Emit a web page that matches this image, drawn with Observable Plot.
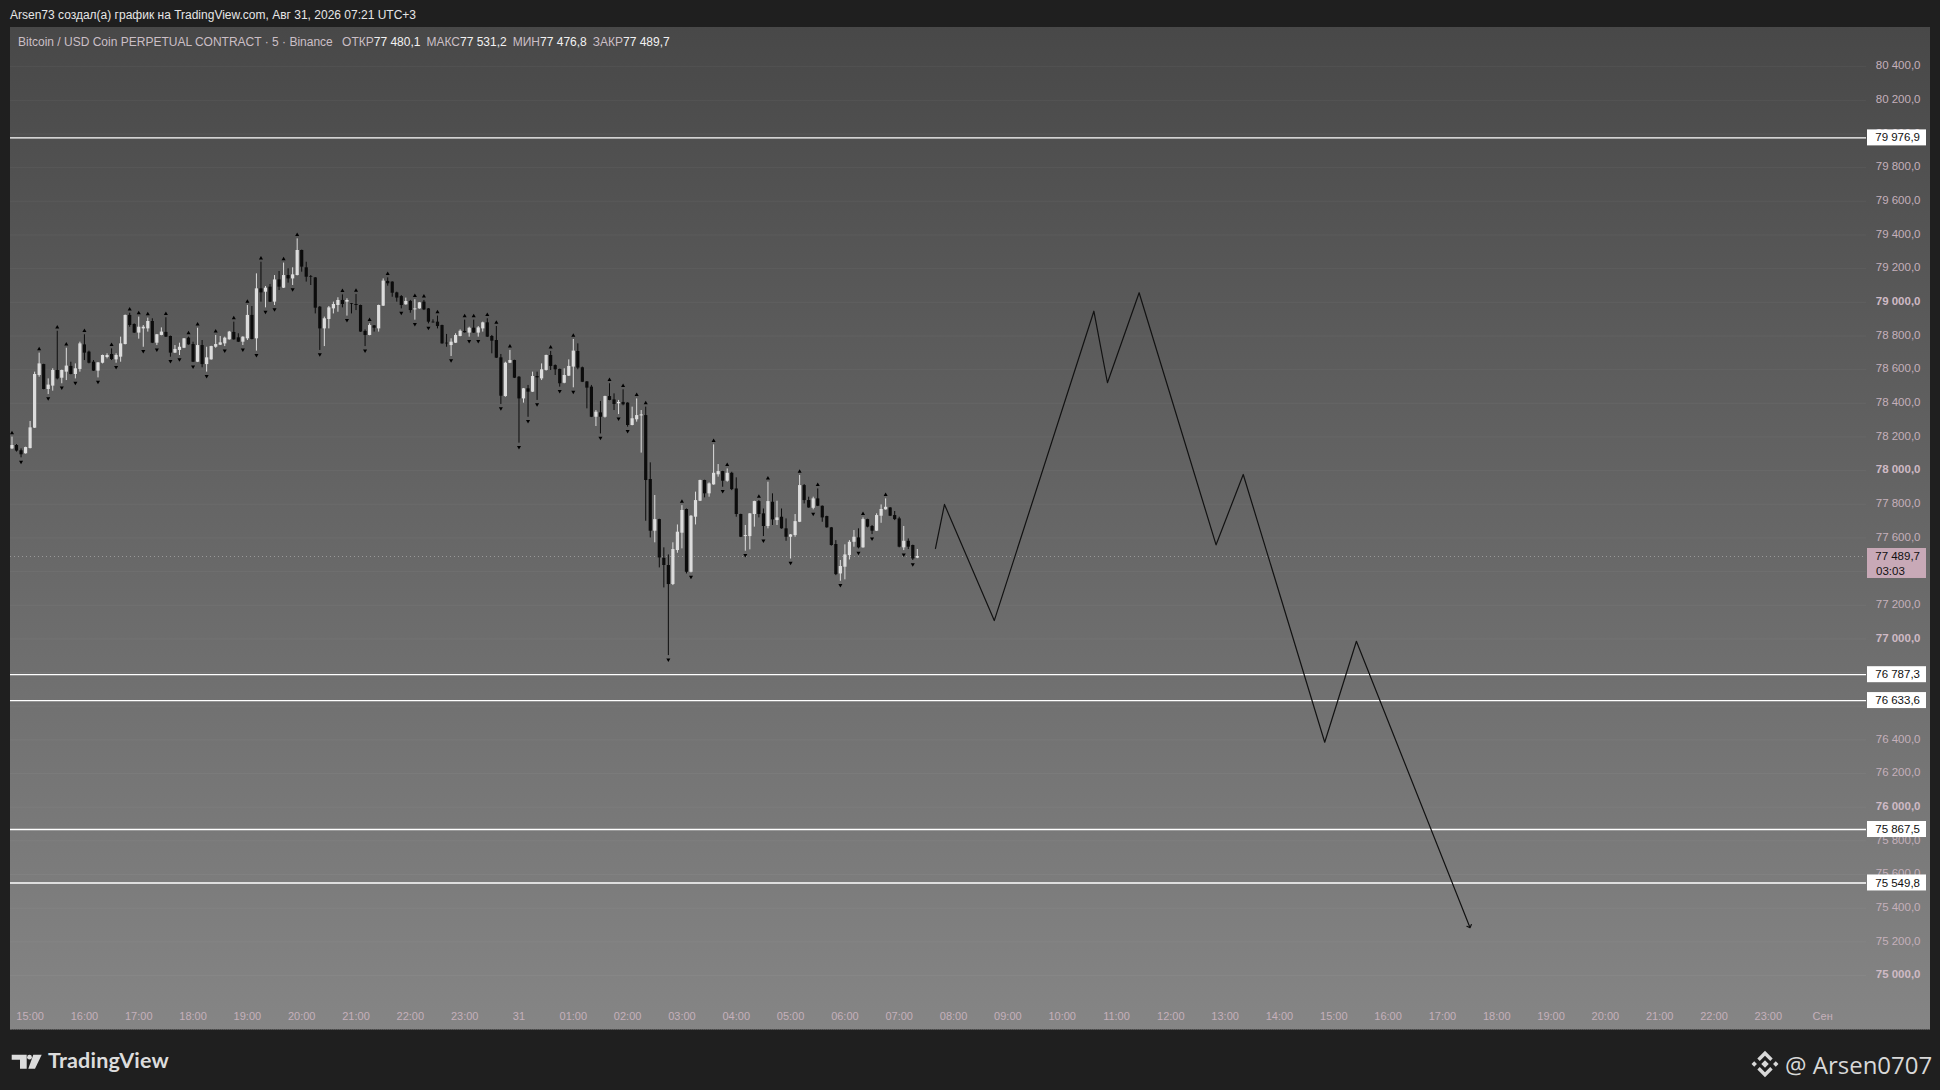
<!DOCTYPE html>
<html>
<head>
<meta charset="utf-8">
<script src="https://cdn.jsdelivr.net/npm/d3@7"></script>
<script src="https://cdn.jsdelivr.net/npm/@observablehq/plot@0.6"></script>
<style>
  html, body { margin: 0; padding: 0; background: #1f1f1f; width: 1940px; height: 1090px; overflow: hidden;
    font-family: "Liberation Sans", Arial, sans-serif; }
  #title { position: absolute; left: 10px; top: 8px; font-size: 12px; color: #e6e6e6; white-space: pre; }
  #panel { position: absolute; left: 10px; top: 27px; width: 1920px; height: 1002px;
    background: linear-gradient(#484848, #858585); border-bottom: 1px dotted #5a5a5a; }
  #chart { position: absolute; left: 0; top: 0; }
  #legend { position: absolute; left: 8px; top: 8px; font-size: 12px; color: #cbbfc6; white-space: pre; }
  #legend .v { color: #f2f2f2; }
  #legend .k { margin-left: 6px; }
  #tvlogo { position: absolute; left: 10px; top: 1050px; }
  #tvtext { position: absolute; left: 48px; top: 1047px; font-family: Lato, "Open Sans", sans-serif; font-weight: 700;
    font-size: 21.5px; color: #dcdcdc; letter-spacing: 0.2px; }
  #author { position: absolute; left: 1751px; top: 1050px; }
  #authortext { position: absolute; left: 1785px; top: 1048px; font-family: "Open Sans", "Noto Sans", sans-serif;
    font-size: 24px; color: #d8d8d8; white-space: pre; }
</style>
</head>
<body>
<div id="title">Arsen73 создал(а) график на TradingView.com, Авг 31, 2026 07:21 UTC+3</div>
<div id="panel">
  <div id="chart"></div>
  <div id="legend">Bitcoin / USD Coin PERPETUAL CONTRACT · 5 · Binance <span class="k">ОТКР</span><span class="v">77 480,1</span><span class="k">МАКС</span><span class="v">77 531,2</span><span class="k">МИН</span><span class="v">77 476,8</span><span class="k">ЗАКР</span><span class="v">77 489,7</span></div>
</div>
<svg id="tvlogo" width="36" height="22" viewBox="0 0 36 22">
  <path d="M1.7 4.7 H16.7 V18.7 H10 V9.7 H1.7 Z" fill="#dcdcdc"/>
  <circle cx="19.5" cy="7.2" r="2.4" fill="#dcdcdc"/>
  <path d="M23.3 4.7 H31.7 L25 18.7 H18.3 Z" fill="#dcdcdc"/>
</svg>
<div id="tvtext">TradingView</div>
<svg id="author" width="28" height="28" viewBox="0 0 26 26">
  <g fill="#d8d8d8">
    <polygon points="13,9.5 16.5,13 13,16.5 9.5,13"/>
    <polygon points="3,10.5 5.5,13 3,15.5 0.5,13"/>
    <polygon points="23,10.5 25.5,13 23,15.5 20.5,13"/>
    <polyline points="7,9 13,3 19,9" fill="none" stroke="#d8d8d8" stroke-width="3.2"/>
    <polyline points="7,17 13,23 19,17" fill="none" stroke="#d8d8d8" stroke-width="3.2"/>
  </g>
</svg>
<div id="authortext">@ Arsen0707</div>

<script>
// ---------------- DATA ----------------
// 5-minute candles, Aug 30 2026 14:40 .. Aug 31 07:20 (clock shown on the axis)
const candleStartUTC = "2026-08-30T14:40:00Z";
const candleStepMinutes = 5;

const candleOpen = [
78129,78149,78118,78100,78131,78252,78565,78630,78482,78502,78595,78549,78585,78619,78571,78601,78747,78704,78644,78591,
78638,78672,78690,78658,78674,78749,78922,78868,78817,78842,78842,78886,78757,78803,78821,78797,78698,78714,78727,78787,
78749,78644,78743,78630,78658,78733,78745,78753,78777,78821,78789,78763,78783,78922,78783,79080,79060,79090,79001,79133,
79084,79159,79139,79159,79308,79205,79153,79145,78971,78842,78898,78961,78981,79011,79001,78991,78987,78981,78827,78803,
78860,78842,78977,79124,79120,79056,79034,78985,79005,78955,78961,79001,78961,78882,78882,78862,78757,78743,78757,78797,
78827,78817,78846,78817,78842,78878,78797,78773,78670,78440,78638,78654,78555,78426,78486,78466,78559,78545,78595,78684,
78624,78601,78519,78561,78615,78708,78611,78527,78496,78317,78343,78317,78440,78420,78397,78405,78401,78268,78302,78325,
78327,77947,77640,77709,77479,77436,77323,77525,77628,77769,77396,77723,77818,77941,77862,77915,77975,77994,77937,77984,
77891,77739,77608,77608,77739,77816,77743,77668,77812,77703,77723,77654,77604,77614,77693,77911,77822,77776,77832,77788,
77727,77660,77561,77386,77426,77495,77574,77600,77541,77709,77668,77640,77729,77767,77778,77733,77713,77541,77580,77555,
77480.1];
const candleHigh = [
78199,78155,78129,78139,78292,78585,78698,78632,78545,78605,78828,78597,78727,78644,78634,78763,78807,78710,78654,78642,
78686,78694,78723,78694,78793,78924,78935,78872,78912,78862,78906,78902,78809,78848,78908,78799,78743,78757,78785,78793,
78763,78846,78773,78733,78739,78803,78797,78793,78827,78882,78813,78795,78981,78975,79169,79238,79094,79106,79159,79183,
79233,79199,79205,79377,79310,79238,79159,79147,78975,78912,78975,79001,79027,79044,79021,78993,79046,78983,78836,78872,
78862,78983,79139,79145,79122,79060,79040,79025,79011,79015,78999,79011,78963,78896,78918,78864,78809,78783,78813,78836,
78894,78852,78894,78856,78882,78902,78803,78856,78690,78644,78714,78656,78559,78488,78506,78585,78585,78634,78686,78708,
78628,78603,78605,78658,78779,78753,78615,78529,78506,78357,78411,78442,78516,78456,78417,78480,78403,78377,78426,78357,
78377,78046,77852,77711,77541,77499,77571,77677,77792,77772,77733,77872,77943,77943,77927,78153,78036,77996,78010,77990,
77957,77741,77674,77745,77818,77822,77772,77931,77862,77818,77772,77713,77620,77739,77971,77917,77842,77842,77891,77790,
77729,77662,77584,77466,77559,77584,77644,77654,77719,77711,77674,77743,77796,77832,77780,77757,77723,77668,77594,77557,
77531.2];
const candleLow = [
78125,78110,78076,78098,78129,78250,78555,78480,78452,78472,78539,78516,78535,78569,78545,78585,78654,78634,78589,78551,
78634,78664,78654,78638,78644,78747,78852,78815,78781,78733,78823,78755,78743,78801,78791,78674,78696,78684,78725,78745,
78642,78642,78611,78585,78656,78727,78743,78737,78775,78775,78761,78743,78773,78777,78710,79001,78967,78999,78981,79070,
79082,79114,79100,79157,79179,79120,79100,78931,78714,78737,78842,78931,78941,78967,78918,78931,78951,78821,78737,78801,
78823,78823,78975,79096,79030,79001,78961,78983,78935,78894,78959,78951,78872,78876,78842,78751,78733,78678,78755,78795,
78817,78793,78815,78793,78823,78791,78694,78666,78393,78436,78636,78547,78163,78401,78317,78464,78417,78535,78591,78595,
78565,78496,78516,78559,78492,78599,78523,78367,78315,78262,78218,78312,78415,78357,78333,78385,78258,78266,78288,78104,
77699,77600,77571,77422,77303,76901,77317,77509,77535,77386,77392,77677,77816,77838,77842,77913,77961,77901,77931,77881,
77723,77602,77521,77529,77664,77719,77608,77654,77674,77674,77652,77580,77475,77604,77691,77802,77776,77767,77786,77693,
77658,77551,77376,77343,77351,77469,77545,77535,77539,77660,77620,77638,77687,77765,77727,77703,77541,77525,77531,77466,
77476.8];
const candleClose = [
78149,78116,78094,78137,78254,78571,78634,78482,78508,78595,78545,78595,78621,78571,78605,78753,78698,78638,78591,78640,
78684,78684,78660,78684,78753,78922,78862,78817,78852,78852,78886,78757,78807,78823,78793,78698,78720,78733,78783,78747,
78644,78743,78630,78670,78737,78749,78759,78787,78823,78777,78763,78793,78922,78779,79080,79056,79084,79001,79133,79090,
79159,79139,79163,79308,79209,79149,79149,78965,78842,78902,78967,78987,79011,78987,79011,78987,78981,78823,78803,78862,
78846,78981,79126,79110,79054,79025,78981,79005,78951,78961,78997,78955,78882,78878,78856,78753,78753,78763,78803,78828,
78819,78846,78817,78848,78878,78793,78769,78668,78442,78638,78654,78549,78426,78486,78466,78559,78551,78599,78684,78619,
78599,78516,78565,78619,78710,78609,78525,78490,78317,78347,78317,78440,78417,78393,78405,78391,78268,78308,78327,78331,
77941,77640,77709,77481,77436,77323,77531,77634,77763,77396,77729,77822,77941,77862,77921,77984,77994,77937,77984,77887,
77739,77604,77614,77743,77816,77739,77668,77816,77707,77719,77654,77604,77618,77697,77911,77822,77778,77832,77788,77719,
77660,77555,77382,77430,77499,77574,77604,77541,77709,77664,77640,77733,77769,77782,77729,77709,77545,77580,77545,77475,
77489.7];

// candle numbers (1-based) carrying the small fractal triangles
const fractalHighCandles = [1,7,11,13,17,23,27,29,31,35,40,42,46,50,53,56,61,64,74,77,80,84,90,92,95,101,103,106,108,111,
  120,125,133,136,139,141,149,156,159,166,168,175,179,189,194];
const fractalLowCandles = [3,9,12,15,20,24,30,33,36,38,41,44,48,52,55,57,59,63,69,75,79,87,90,93,98,102,104,109,113,115,
  117,122,125,131,135,137,146,151,158,163,167,173,178,184,188,191,198,200];

// horizontal levels drawn on the chart
const levelPrices = [79976.9, 76787.3, 76633.6, 75867.5, 75549.8];

// current price and bar countdown
const lastPrice = 77489.7;
const barCountdown = "03:03";

// hand-drawn projection path
const pathTimes = ["2026-08-31T07:40Z","2026-08-31T07:50Z","2026-08-31T08:45Z","2026-08-31T10:35Z","2026-08-31T10:50Z",
  "2026-08-31T11:25Z","2026-08-31T12:50Z","2026-08-31T13:20Z","2026-08-31T14:50Z","2026-08-31T15:25Z","2026-08-31T17:30Z"];
const pathPrices = [77537, 77799, 77109, 78947, 78522, 79057, 77559, 77977, 76386, 76986, 75291];

// price-axis grid ticks
const priceTicks = [75000,75200,75400,75600,75800,76000,76200,76400,76600,76800,77000,77200,77400,77600,77800,
  78000,78200,78400,78600,78800,79000,79200,79400,79600,79800,80000,80200,80400];
// tick labels the price scale hides behind the current-price / level labels
const hiddenTickLabels = [77400, 76600, 76800];

// time-axis labels, one per hour starting Aug 30 15:00
const timeTickStartUTC = "2026-08-30T15:00:00Z";
const timeTickLabels = ["15:00","16:00","17:00","18:00","19:00","20:00","21:00","22:00","23:00","31",
  "01:00","02:00","03:00","04:00","05:00","06:00","07:00","08:00","09:00","10:00","11:00","12:00","13:00",
  "14:00","15:00","16:00","17:00","18:00","19:00","20:00","21:00","22:00","23:00","Сен"];

// ---------------- CHART ----------------
const FONT = "'Liberation Sans', Arial, sans-serif";
const axisColor = "#c5b0bb";
const axisBold = "#cfbac5";
const upColor = "#dcdcdc";
const downColor = "#0c0c0c";

function fmtPrice(v) {
  const [ip, fp] = Number(v).toFixed(1).split(".");
  return ip.replace(/\B(?=(\d{3})+(?!\d))/g, " ") + "," + fp;
}

const t0 = new Date(candleStartUTC).getTime();
const candleTime = i => new Date(t0 + i * candleStepMinutes * 60000);
const idx = d3.range(candleOpen.length);
const upIdx = idx.filter(i => candleClose[i] >= candleOpen[i]);
const dnIdx = idx.filter(i => candleClose[i] < candleOpen[i]);
const hiIdx = fractalHighCandles.map(n => n - 1);
const loIdx = fractalLowCandles.map(n => n - 1);
const tt0 = new Date(timeTickStartUTC).getTime();
const path = pathTimes.map((t, i) => ({t: new Date(t), p: pathPrices[i]}));

const shownTicks = priceTicks.filter(v => !hiddenTickLabels.includes(v));
const regularTicks = shownTicks.filter(v => v % 1000 !== 0);
const boldTicks = shownTicks.filter(v => v % 1000 === 0);

function labelBoxes(index, scales, values, dimensions) {
  const ns = "http://www.w3.org/2000/svg";
  const g = document.createElementNS(ns, "g");
  const yScale = typeof scales.y === "function" ? scales.y : (v => scales.scales.y.apply(v));
  const x0 = dimensions.width - dimensions.marginRight + 1;
  const bw = 59;
  function box(y, h, fill) {
    const r = document.createElementNS(ns, "rect");
    r.setAttribute("x", x0); r.setAttribute("y", y); r.setAttribute("width", bw); r.setAttribute("height", h);
    r.setAttribute("fill", fill);
    g.appendChild(r);
  }
  function label(x, y, s, anchor) {
    const t = document.createElementNS(ns, "text");
    t.setAttribute("x", x); t.setAttribute("y", y);
    t.setAttribute("text-anchor", anchor); t.setAttribute("dy", "0.35em");
    t.setAttribute("font-size", "11.5"); t.setAttribute("font-family", FONT); t.setAttribute("fill", "#111");
    t.textContent = s;
    g.appendChild(t);
  }
  for (const p of levelPrices) {
    const y = yScale(p);
    box(y - 8, 16, "#ffffff");
    label(x0 + 53, y, fmtPrice(p), "end");
  }
  const yl = yScale(lastPrice);
  box(yl - 8, 30, "#c8a9b7");
  label(x0 + 53, yl, fmtPrice(lastPrice), "end");
  label(x0 + 9, yl + 14.5, barCountdown, "start");
  return g;
}

const chart = Plot.plot({
  width: 1920,
  height: 1001,
  marginLeft: 0,
  marginRight: 64,
  marginTop: 0,
  marginBottom: 28,
  style: {background: "transparent", fontFamily: FONT, overflow: "visible"},
  x: {type: "utc", domain: [new Date("2026-08-30T14:38:21Z"), new Date("2026-09-01T00:48:26Z")], axis: null},
  y: {domain: [74851.5, 80632.8], axis: null},
  marks: [
    Plot.ruleY(priceTicks, {stroke: "#ffffff", strokeOpacity: 0.045}),
    Plot.ruleY([lastPrice], {stroke: "#d8d8d8", strokeOpacity: 0.45, strokeDasharray: "1,3"}),
    Plot.ruleY(levelPrices, {stroke: "#ffffff", strokeWidth: 1.3}),
    Plot.ruleX(dnIdx, {x: candleTime, y1: i => candleLow[i], y2: i => candleHigh[i], stroke: downColor, strokeWidth: 1}),
    Plot.ruleX(upIdx, {x: candleTime, y1: i => candleLow[i], y2: i => candleHigh[i], stroke: upColor, strokeWidth: 1}),
    Plot.ruleX(dnIdx, {x: candleTime, y1: i => candleOpen[i], y2: i => candleClose[i], stroke: downColor, strokeWidth: 3.2}),
    Plot.ruleX(upIdx, {x: candleTime, y1: i => candleOpen[i], y2: i => candleClose[i], stroke: upColor, strokeWidth: 3.2}),
    Plot.dot(hiIdx, {x: candleTime, y: i => candleHigh[i], dy: -4, symbol: "triangle", r: 1.5, fill: "#000", stroke: "none"}),
    Plot.dot(loIdx, {x: candleTime, y: i => candleLow[i], dy: 4, symbol: "triangle", rotate: 180, r: 1.5, fill: "#000", stroke: "none"}),
    Plot.line(path, {x: "t", y: "p", stroke: "#121212", strokeWidth: 1.2, markerEnd: "arrow"}),
    Plot.text(regularTicks, {y: d => d, text: fmtPrice, frameAnchor: "right", textAnchor: "end", dx: 54, dy: -1,
      fill: axisColor, fontSize: 11.5}),
    Plot.text(boldTicks, {y: d => d, text: fmtPrice, frameAnchor: "right", textAnchor: "end", dx: 54, dy: -1,
      fill: axisBold, fontSize: 11.5, fontWeight: "bold"}),
    Plot.text(timeTickLabels, {x: (d, i) => new Date(tt0 + i * 3600000), text: d => d, frameAnchor: "bottom", dy: 19,
      fill: axisColor, fontSize: 11}),
    labelBoxes
  ]
});
document.getElementById("chart").appendChild(chart);
</script>
</body>
</html>
